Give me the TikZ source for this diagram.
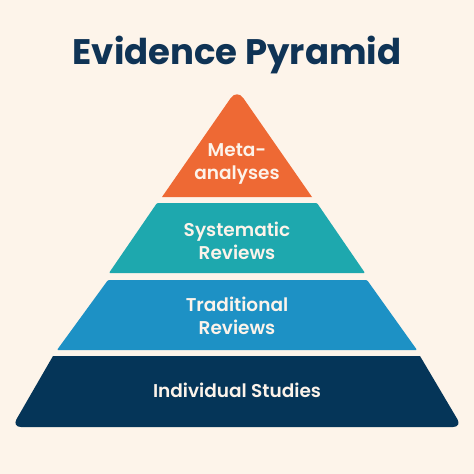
\documentclass[tikz,border=0pt]{standalone}
\usepackage{fontspec}
\setmainfont{Poppins}
\newfontfamily\labelfont{Poppins SemiBold}
\usepackage{xcolor}
\definecolor{bgCream}{HTML}{FDF4EA}
\definecolor{titleNavy}{HTML}{0F3355}
\definecolor{metaOrange}{HTML}{EE6934}
\definecolor{sysTeal}{HTML}{1EA8AE}
\definecolor{tradBlue}{HTML}{1D91C5}
\definecolor{studyNavy}{HTML}{053558}
\definecolor{labelText}{HTML}{FCF3EA}
\usetikzlibrary{positioning}
\tikzset{
    % Title on top
    title text/.style={
        font=\fontsize{35.5}{40}\selectfont\bfseries,
        text=titleNavy,
        inner sep=0pt,
    },
    % Pyramid layers
    layer/.style={
        rounded corners=1pt,
    },
    % White text inside a layer
    level label/.style={
        font=\labelfont\fontsize{18.5}{23}\selectfont,
        text=labelText,
        align=center,
        inner sep=0pt,
    },
}

\begin{document}
\begin{tikzpicture}[x=1pt, y=-1pt]
    \fill[bgCream] (0,0) rectangle (474,474);
    \useasboundingbox (0,0) rectangle (474,474);

    \node (title) [title text, anchor=base] at (237,64) {Evidence Pyramid};

    % layers, top to bottom
    \fill[metaOrange] (162,197) [rounded corners=11pt] -- (237,89) [sharp corners] -- (312,197) -- cycle;
    \fill[layer, sysTeal] (109,273) -- (157,203) -- (317,203) -- (365,273) -- cycle;
    \fill[layer, tradBlue] (57,350) -- (108,280) -- (367,280) -- (417,350) -- cycle;
    \fill[studyNavy] (53,356) [rounded corners=9pt] -- (12,427) -- (462,427) [sharp corners] -- (420,356) -- cycle;

    \node (meta) [level label] at (237,164) {Meta-\\analyses};
    \node (systematic) [level label] at (237,241) {Systematic\\Reviews};
    \node (traditional) [level label] at (237,316) {Traditional\\Reviews};
    \node (individual) [level label] at (237,390) {Individual Studies};
\end{tikzpicture}
\end{document}
